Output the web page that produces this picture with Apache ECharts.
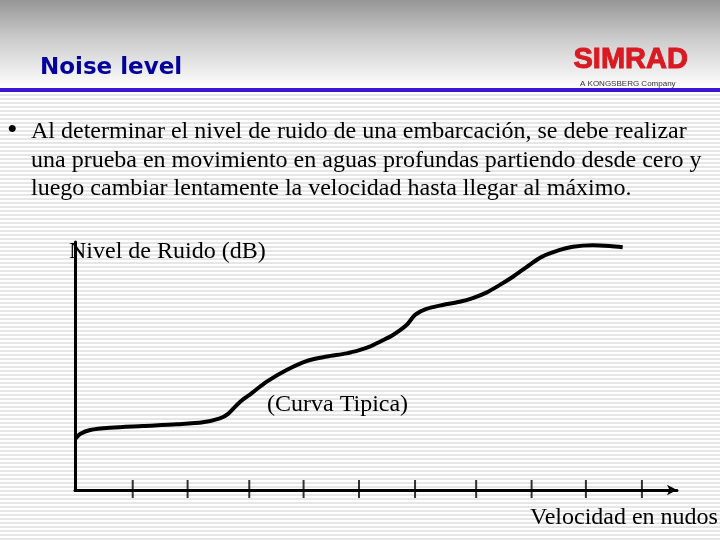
<!DOCTYPE html>
<html>
<head>
<meta charset="utf-8">
<script src="https://cdn.jsdelivr.net/npm/echarts@6/dist/echarts.min.js"></script>
<style>
  html, body { margin: 0; padding: 0; }
  body {
    width: 720px; height: 540px; overflow: hidden;
    background: repeating-linear-gradient(to bottom, #ffffff 0px, #ffffff 2px, #e6e6e6 2px, #e6e6e6 4px);
  }
  #chart { width: 720px; height: 540px; }
</style>
</head>
<body>
<div id="chart"></div>
<script>
// ---- data ----
const speedValues = [0.01, 0.09, 0.27, 0.62, 1.20, 1.80, 2.26, 2.56, 2.70, 2.92, 3.12, 3.39, 3.74, 4.09, 4.45, 4.80, 5.04, 5.21, 5.39, 5.62, 5.86, 6.01, 6.21, 6.50, 6.80, 7.03, 7.27, 7.51, 7.74, 7.98, 8.25, 8.57, 8.80, 9.15, 9.45, 9.68];
const noiseValues = [20.8, 22.6, 24.2, 25.1, 25.8, 26.5, 27.3, 28.9, 30.6, 35.6, 39.0, 43.7, 48.4, 52.0, 53.8, 55.1, 56.5, 57.8, 59.8, 62.5, 66.5, 70.6, 73.0, 74.6, 75.9, 77.4, 79.6, 82.7, 86.0, 89.9, 94.0, 96.8, 98.1, 98.7, 98.4, 97.9];
const tickPositions = [1.02, 1.99, 3.08, 4.04, 5.02, 6.01, 7.09, 8.07, 9.03, 10.02];
const xMax = 10.64;
const yMax = 100;

const titleText = 'Noise level';
const logoText = 'SIMRAD';
const logoSubText = 'A KONGSBERG Company';
const bulletLines = [
  'Al determinar el nivel de ruido de una embarcación, se debe realizar',
  'una prueba en movimiento en aguas profundas partiendo desde cero y',
  'luego cambiar lentamente la velocidad hasta llegar al máximo.'
];
const yAxisTitle = 'Nivel de Ruido (dB)';
const xAxisTitle = 'Velocidad en nudos';
const curveLabel = '(Curva Tipica)';

// ---- chart ----
const chart = echarts.init(document.getElementById('chart'), null, { renderer: 'canvas' });

const serif = "'Liberation Serif', 'Times New Roman', serif";

const graphics = [
  {
    type: 'rect', z: -10, silent: true,
    shape: { x: 0, y: 0, width: 720, height: 88 },
    style: {
      fill: new echarts.graphic.LinearGradient(0, 0, 0, 1, [
        { offset: 0, color: '#969696' },
        { offset: 0.45, color: '#cdcdcd' },
        { offset: 1, color: '#fefefe' }
      ])
    }
  },
  {
    type: 'rect', z: -9, silent: true,
    shape: { x: 0, y: 88, width: 720, height: 4 },
    style: { fill: '#3c14d2' }
  },
  {
    type: 'text', left: 40, top: 57,
    style: { text: titleText, font: "bold 23px 'DejaVu Sans', Verdana, sans-serif", fill: '#03039c' }
  },
  {
    type: 'text', left: 573, top: 45,
    style: { text: logoText, font: "bold 29px 'Liberation Sans', Arial, sans-serif", fill: '#da1a22', stroke: '#da1a22', lineWidth: 1 }
  },
  {
    type: 'text', left: 580, top: 80,
    style: { text: logoSubText, font: "8px 'Liberation Sans', Arial, sans-serif", fill: '#333333' }
  },
  {
    type: 'text', left: 7, top: 116,
    style: { text: '•', font: '30px ' + serif, fill: '#000000' }
  }
];

bulletLines.forEach(function (line, i) {
  graphics.push({
    type: 'text', left: 31, top: 120 + i * 28.5,
    style: { text: line, font: '24px ' + serif, fill: '#000000' }
  });
});

graphics.push(
  { type: 'text', left: 69, top: 240, style: { text: yAxisTitle, font: '24px ' + serif, fill: '#000000' } },
  { type: 'text', left: 267, top: 393, style: { text: curveLabel, font: '24px ' + serif, fill: '#000000' } },
  { type: 'text', left: 530, top: 506, style: { text: xAxisTitle, font: '24px ' + serif, fill: '#000000' } }
);

const curveData = speedValues.map(function (x, i) { return [x, noiseValues[i]]; });
const tickData = tickPositions.map(function (x) { return [x, 0]; });

chart.setOption({
  backgroundColor: 'transparent',
  animation: false,
  grid: { left: 75, right: 43, top: 242, bottom: 50, containLabel: false },
  xAxis: {
    type: 'value', min: 0, max: xMax,
    axisLine: { show: true, symbol: ['none', 'arrow'], symbolSize: [8, 10], symbolOffset: [0, 0], lineStyle: { color: '#000', width: 3 } },
    axisTick: { show: false }, axisLabel: { show: false }, splitLine: { show: false }
  },
  yAxis: {
    type: 'value', min: 0, max: yMax,
    axisLine: { show: true, lineStyle: { color: '#000', width: 3 } },
    axisTick: { show: false }, axisLabel: { show: false }, splitLine: { show: false }
  },
  graphic: graphics,
  series: [
    {
      type: 'line', data: curveData, smooth: 0.3, symbol: 'none',
      lineStyle: { color: '#000', width: 4 }, clip: false, z: 5
    },
    {
      type: 'scatter', data: tickData, symbol: 'rect', symbolSize: [2, 18],
      symbolOffset: [0, -1], itemStyle: { color: '#000' }, silent: true, z: 6
    }
  ]
});
</script>
</body>
</html>
